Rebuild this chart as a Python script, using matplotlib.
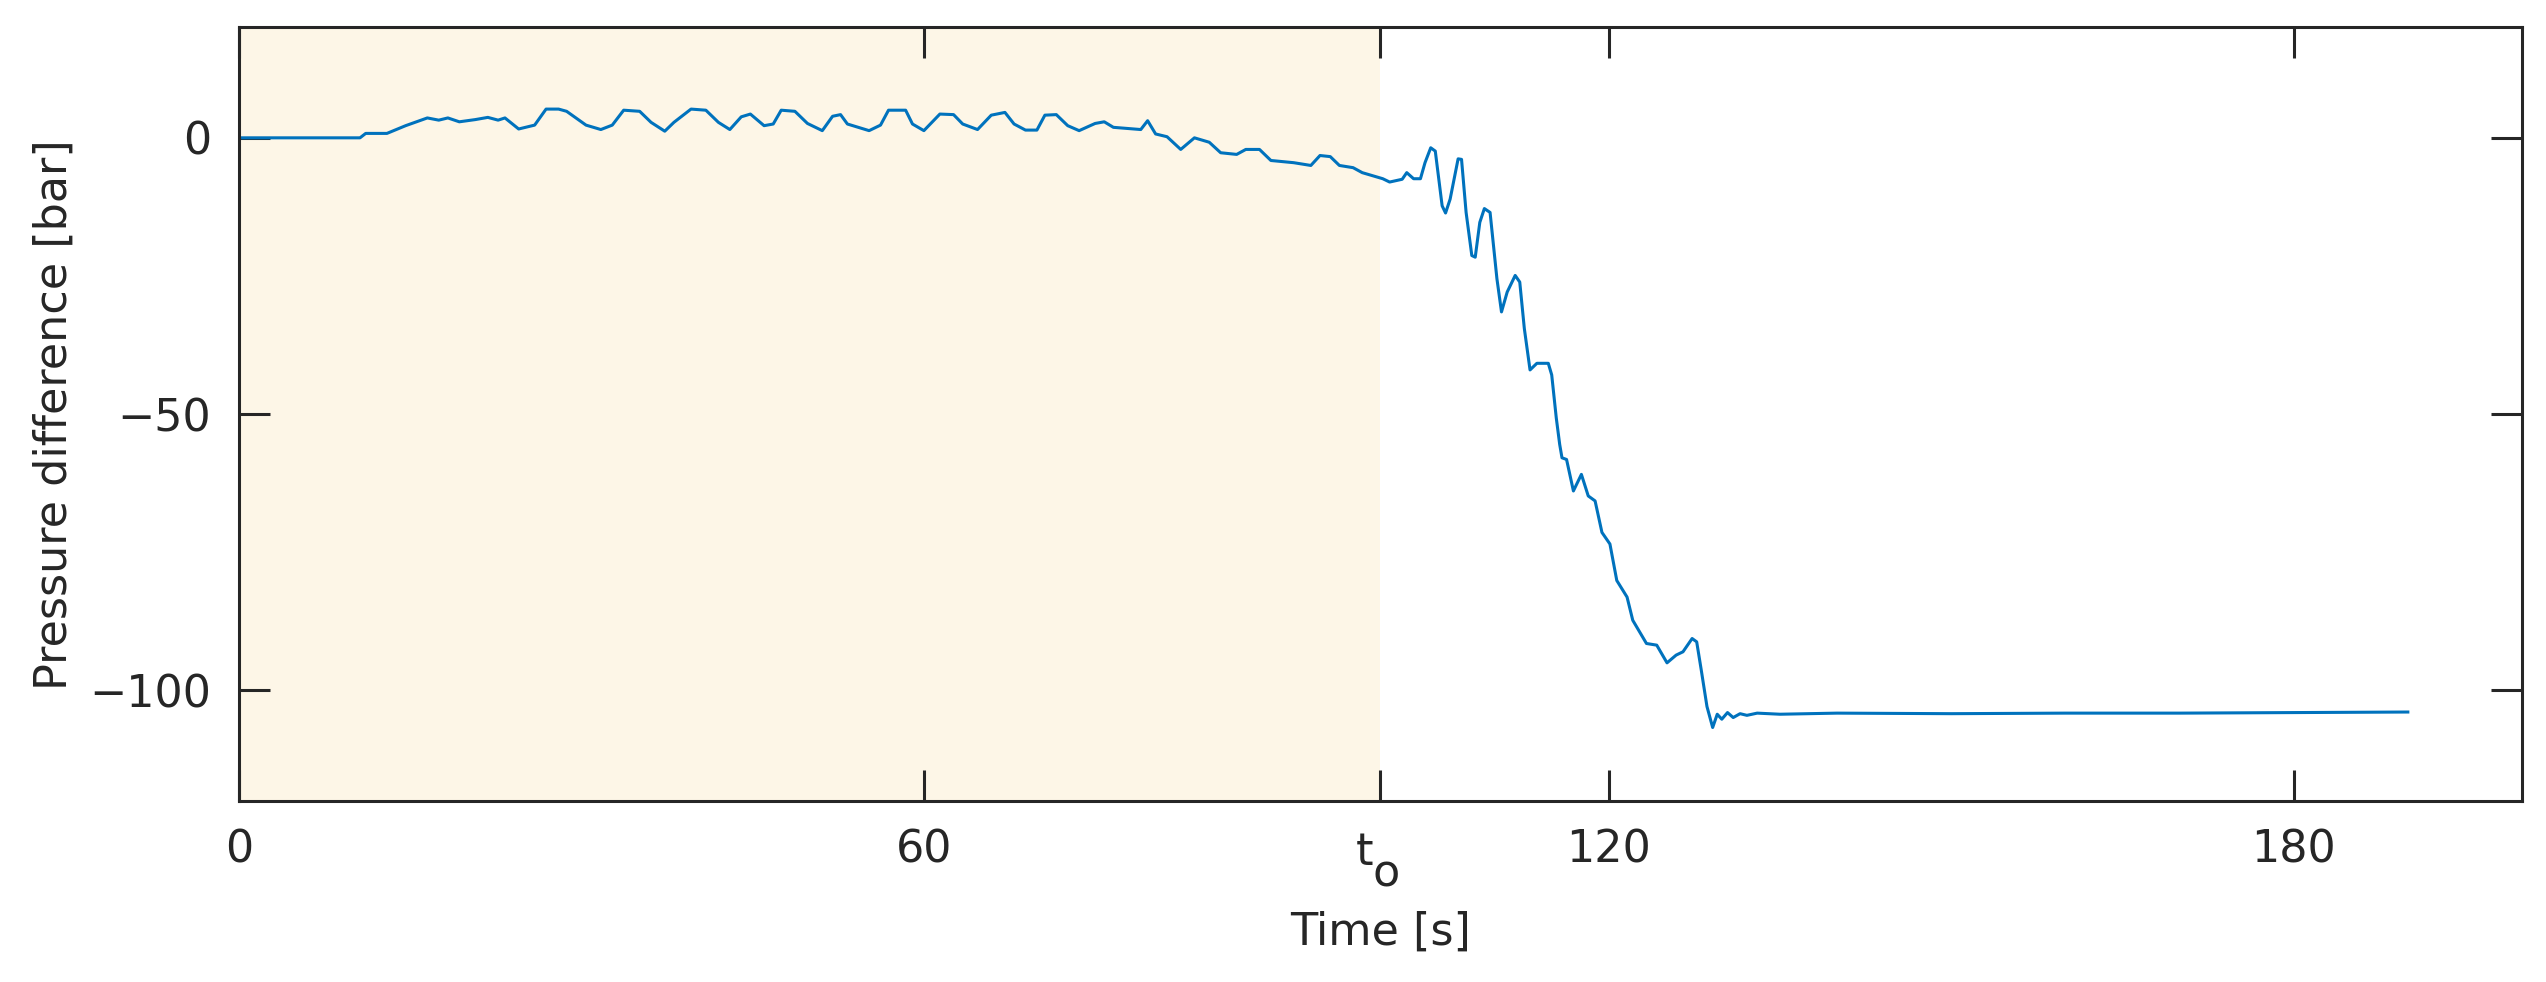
import matplotlib
matplotlib.use("Agg")
import matplotlib.pyplot as plt

# ---- data ----
time_s = [0, 5, 10.6, 11.1, 12.96, 14.6, 16.5, 17.5, 18.3, 19.3, 20.7, 21.8, 22.7, 23.3,
          24.5, 25.9, 26.9, 28.0, 28.7, 30.4, 31.7, 32.7, 33.7, 35.1, 36.1, 37.3, 38.1,
          39.6, 40.9, 42.0, 43.0, 44.0, 44.8, 46.0, 46.8, 47.5, 48.7, 49.8, 51.1, 52.0,
          52.7, 53.3, 55.2, 56.2, 56.9, 58.4, 59.0, 60.0, 61.4, 62.6, 63.4, 64.7, 65.9,
          67.1, 67.9, 68.9, 69.9, 70.6, 71.6, 72.6, 73.6, 75.0, 75.8, 76.6, 79.0, 79.6,
          80.3, 81.3, 82.5, 83.7, 85.0, 86.0, 87.4, 88.2, 89.4, 90.4, 92.4, 93.9, 94.7,
          95.6, 96.4, 97.6, 98.4, 100.2, 100.8, 101.9, 102.3, 102.9, 103.5, 103.9, 104.4,
          104.8, 105.4, 105.7, 106.1, 106.8, 107.1, 107.5, 108.0, 108.3, 108.7, 109.1,
          109.6, 110.2, 110.6, 111.1, 111.8, 112.2, 112.6, 113.1, 113.7, 114.7, 115.0,
          115.4, 115.7, 115.9, 116.3, 116.9, 117.6, 118.2, 118.8, 119.4, 120.1, 120.7,
          121.6, 122.1, 123.3, 124.2, 125.1, 125.9, 126.5, 127.3, 127.7, 128.1, 128.6,
          129.1, 129.5, 129.9, 130.4, 130.9, 131.5, 132.1, 133, 135, 140, 150, 160, 170,
          180, 190]
pressure_bar = [0, 0, 0, 0.8, 0.8, 2.2, 3.6, 3.2, 3.6, 2.9, 3.3, 3.7, 3.2, 3.6,
                1.6, 2.3, 5.2, 5.2, 4.8, 2.3, 1.5, 2.3, 5.0, 4.8, 2.8, 1.2, 2.8,
                5.2, 5.0, 2.8, 1.5, 3.8, 4.3, 2.2, 2.5, 5.0, 4.8, 2.6, 1.3, 3.9,
                4.2, 2.5, 1.3, 2.3, 5.0, 5.0, 2.5, 1.3, 4.3, 4.2, 2.5, 1.5, 4.1,
                4.6, 2.5, 1.4, 1.4, 4.1, 4.2, 2.2, 1.3, 2.6, 2.9, 1.9, 1.5, 3.1,
                0.7, 0.2, -2.1, 0.0, -0.8, -2.7, -3.0, -2.1, -2.1, -4.1, -4.5, -5.0, -3.2,
                -3.4, -5.0, -5.4, -6.3, -7.4, -8.0, -7.5, -6.3, -7.4, -7.4, -4.5, -1.8,
                -2.4, -12.3, -13.6, -11.1, -3.8, -3.9, -13.5, -21.3, -21.6, -15.3, -12.8,
                -13.5, -25.5, -31.5, -27.9, -24.9, -26.1, -34.5, -42.0, -40.8, -40.8, -42.9,
                -50.7, -55.5, -57.9, -58.2, -63.9, -60.9, -64.8, -65.7, -71.4, -73.5, -80.1,
                -83.1, -87.3, -91.5, -91.8, -95.0, -93.6, -93.0, -90.6, -91.2, -96.3, -102.9,
                -106.7, -104.3, -105.2, -104.0, -104.9, -104.2, -104.5, -104.1, -104.3, -104.1, -104.2, -104.1, -104.1,
                -104.0, -103.9]
t_onset = 100
x_ticks = [0, 60, 100, 120, 180]
x_tick_labels = ["0", "60", "", "120", "180"]
onset_label_main = "t"
onset_label_sub = "o"
y_ticks = [0, -50, -100]
y_tick_labels = ["0", "\u221250", "\u2212100"]

plt.rcParams["font.family"] = ["DejaVu Sans"]

fig = plt.figure(figsize=(25.46, 9.82), dpi=100)
ax = fig.add_axes([0.09387, 0.18432, 0.89670, 0.78788])

ax.axvspan(0, t_onset, color="#FDF6E7", zorder=0, lw=0)
ax.plot(time_s, pressure_bar, color="#0072BD", lw=2.2, zorder=2)

ax.set_xlim(0, 200)
ax.set_ylim(-120, 20)
ax.set_xticks(x_ticks)
ax.set_xticklabels(x_tick_labels)
ax.set_yticks(y_ticks)
ax.set_yticklabels(y_tick_labels)

txt_col = "#262626"
spine_col = "#262626"
for s in ax.spines.values():
    s.set_linewidth(2.2)
    s.set_color(spine_col)
ax.tick_params(axis="both", direction="in", length=22, width=2.2, color=spine_col,
               top=True, right=True, labelsize=32, labelcolor=txt_col)
ax.tick_params(axis="x", pad=20)
ax.tick_params(axis="y", pad=20)

# onset tick label: "t" with a lowered full-size "o"
ax.annotate(onset_label_main, xy=(t_onset, 0), xycoords=("data", "axes fraction"),
            xytext=(-16, -64), textcoords="offset pixels", ha="center", va="baseline",
            fontsize=32, color=txt_col, annotation_clip=False)
ax.annotate(onset_label_sub, xy=(t_onset, 0), xycoords=("data", "axes fraction"),
            xytext=(6, -86), textcoords="offset pixels", ha="center", va="baseline",
            fontsize=32, color=txt_col, annotation_clip=False)

ax.set_xlabel("Time [s]", fontsize=32, color=txt_col, labelpad=28)
ax.set_ylabel("Pressure difference [bar]", fontsize=32, color=txt_col, labelpad=10)

fig.savefig("out.png", dpi=100)
